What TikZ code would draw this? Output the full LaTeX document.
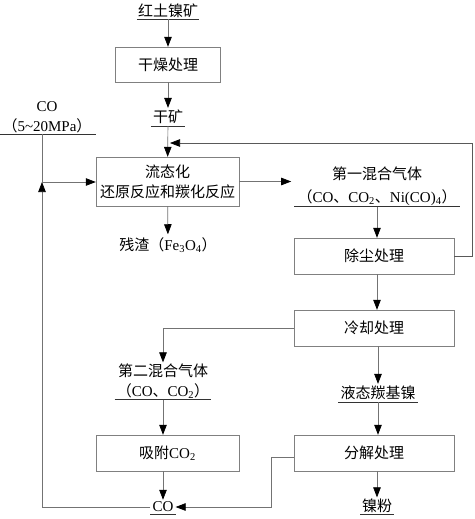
\documentclass[tikz,border=0pt]{standalone}
\usepackage{fontspec}
\setmainfont{Liberation Serif}
\newfontfamily\cjk{Noto Sans CJK SC}
\usetikzlibrary{arrows.meta}
\newcommand{\zh}[1]{{\cjk #1}}
\begin{document}
\begin{tikzpicture}[x=1pt,y=-1pt,
				font=\fontsize{15}{20}\selectfont,
				every node/.style={inner sep=1pt},
				box/.style={draw=gray,minimum height=36pt},
				wide/.style={box,minimum width=143pt},
				side/.style={box,minimum width=160pt},
				ul/.style={append after command={(\tikzlastnode.south west) edge[draw=black!80] (\tikzlastnode.south east)}},
				line/.style={draw=gray!90!black,line width=0.7pt},
				arr/.style={line,-{Triangle[length=10pt,width=7.5pt,color=black]}}]
\useasboundingbox (0,0) rectangle (474,519);
% main column
\node[ul] (ore) at (168,11) {\zh{红土镍矿}};
\node[box,minimum width=105pt,minimum height=35pt] (dry) at (168,64.5) {\zh{干燥处理}};
\node[ul,inner sep=2pt] (dryore) at (168,117) {\zh{干矿}};
\node[wide,minimum height=49pt,align=center] (fluid) at (167.5,181.5) {\zh{流态化}\\\zh{还原反应和羰化反应}};
\node[inner ysep=3pt] (slag) at (168,245) {\zh{残渣（}Fe\textsubscript{3}O\textsubscript{4}\zh{）}};
% gas inlet
\node[ul,align=center,inner xsep=4pt] (coin) at (47,117) {CO\\\zh{（}5\textasciitilde20MPa\zh{）}};
\coordinate (mix) at (42,182);
% right column
\node[ul,align=center,inner xsep=3pt] (gas1) at (377,186) {\zh{第一混合气体}\\[3pt]\zh{（}CO\zh{、}CO\textsubscript{2}\zh{、}Ni(CO)\textsubscript{4}\zh{）}};
\node[side] (dust) at (374,256) {\zh{除尘处理}};
\node[side] (cool) at (374,328) {\zh{冷却处理}};
\node[ul,inner sep=2pt] (liquid) at (378,393) {\zh{液态羰基镍}};
\node[side] (decomp) at (374,453) {\zh{分解处理}};
\node[ul,inner sep=1.5pt] (powder) at (377,506) {\zh{镍粉}};
% left branch
\node[ul,align=center,inner xsep=2pt] (gas2) at (163,381) {\zh{第二混合气体}\\\zh{（}CO\zh{、}CO\textsubscript{2}\zh{）}};
\node[wide] (absorb) at (167.5,453) {\zh{吸附}CO\textsubscript{2}};
\node[ul,inner sep=2pt] (co) at (163,507) {CO};
\coordinate (back) at (170,143);
% connectors
\draw[arr] (ore) -- (dry);
\draw[arr] (dry) -- (dryore);
\draw[arr] (dryore) -- (fluid);
\draw[arr] (fluid) -- (slag);
\draw[arr] (fluid.east) -- ++(52,0);
\draw[arr] (gas1.south -| 377,0) -- (dust.north -| 377,0);
\draw[line,draw=black!65,-{Triangle[length=10pt,width=7.5pt,color=black]}] (dust.east) -- ++(18,0) |- (back);
\draw[arr] (dust.south -| 377,0) -- (cool.north -| 377,0);
\draw[arr] (cool.south -| 378,0) -- (liquid);
\draw[arr] (liquid) -- (decomp.north -| 378,0);
\draw[arr] (decomp.south -| 377,0) -- (powder);
\draw[arr] (cool.west) -| (gas2.north);
\draw[arr] (gas2.south) -- (absorb.north -| gas2.south);
\draw[arr] (absorb.south -| co) -- (co);
\draw[arr] (decomp.west) ++(0,4) -- ++(-22,0) |- (co.east);
\draw[line] (coin.south -| mix) -- (mix);
\draw[arr] (co.west) -| (mix);
\draw[arr] (mix) -- (fluid.west |- mix);
\end{tikzpicture}
\end{document}
